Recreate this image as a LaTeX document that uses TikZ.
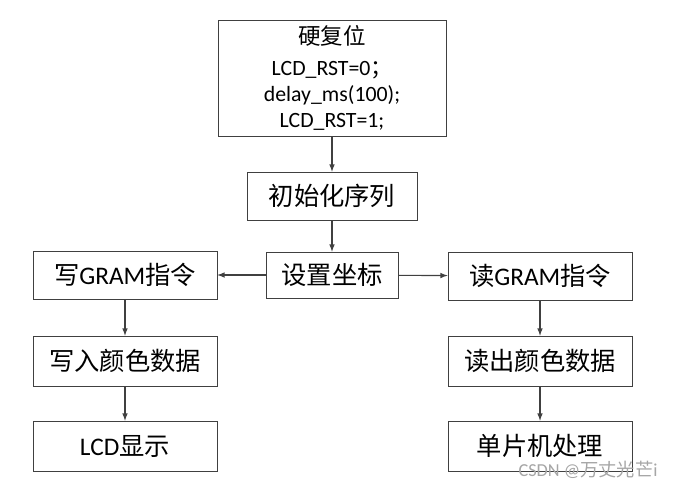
\documentclass[tikz,border=0pt]{standalone}
\usepackage{fontspec}
\setmainfont{Carlito}
\newfontfamily\cjk{Noto Sans CJK SC}
\usetikzlibrary{arrows,positioning}
\definecolor{linegray}{HTML}{404040}
\tikzset{
    box/.style={draw=linegray, fill=white, minimum width=4.6cm,
    text centered, minimum height=1.2cm, font=\fontsize{18}{20}\selectfont},
    topbox/.style={draw=linegray, fill=white, minimum width=5.7cm,
    minimum height=2.9cm, align=center, font=\fontsize{15.5}{18.5}\selectfont},
    flow/.style={draw=linegray, thick, -latex}
}

\begin{document}
\begin{tikzpicture}[x=0.025cm, y=-0.025cm]
    \useasboundingbox (0,0) rectangle (678,489);
    % middle column
    \node [topbox] (hardrst) at (332,78) {{\cjk\fontsize{16}{18}\selectfont 硬复位}\\[4pt]
        LCD\_RST=0{\cjk ；}\\delay\_ms(100);\\LCD\_RST=1;};
    \node [box, minimum width=4.25cm] (initseq) at (332,196) {\cjk 初始化序列};
    \node [box, minimum width=3.3cm, minimum height=1.15cm] (setxy) at (332,275) {\cjk 设置坐标};
    % write side
    \node [box] (wgram) at (125,275) {{\cjk 写}GRAM{\cjk 指令}};
    \node [box, minimum height=1.25cm] (wcolor) at (125,361) {\cjk 写入颜色数据};
    \node [box, minimum height=1.25cm] (lcdshow) at (125,446) {LCD{\cjk 显示}};
    % read side
    \node [box] (rgram) at (540,276) {{\cjk 读}GRAM{\cjk 指令}};
    \node [box, minimum height=1.25cm] (rcolor) at (540,361) {\cjk 读出颜色数据};
    \node [box, minimum height=1.25cm] (mcu) at (540,446) {\cjk 单片机处理};
    \draw [flow] (hardrst) -- (initseq);
    \draw [flow] (initseq) -- (setxy);
    \draw [flow] (setxy) -- (wgram);
    \draw [flow] (setxy) -- (rgram);
    \draw [flow] (wgram) -- (wcolor);
    \draw [flow] (wcolor) -- (lcdshow);
    \draw [flow] (rgram) -- (rcolor);
    \draw [flow] (rcolor) -- (mcu);
    \node [text=black!35, font=\fontsize{13}{15}\selectfont] (wm) at (588,470) {CSDN @{\cjk 万丈光芒}i};
\end{tikzpicture}
\end{document}
